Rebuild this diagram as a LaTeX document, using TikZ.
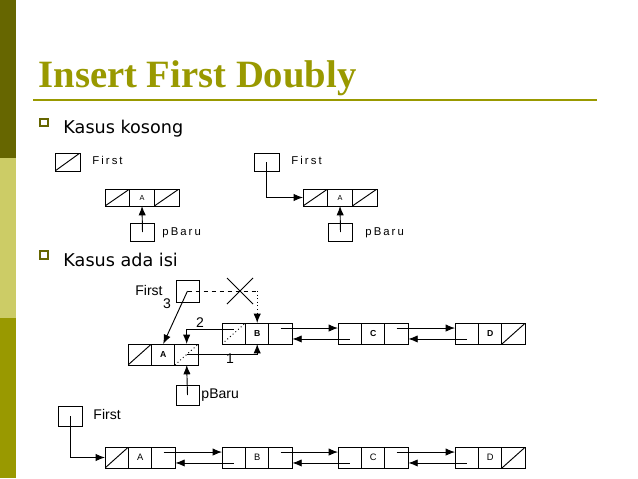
\documentclass[tikz,border=0pt]{standalone}
\usepackage{fontspec}
\setmainfont{Liberation Serif}
\newfontfamily\verd{DejaVu Sans}
\newfontfamily\ari{Liberation Sans}
\newfontfamily\arisp[LetterSpace=18]{Liberation Sans}
\usetikzlibrary{arrows.meta}
\definecolor{oliveD}{HTML}{666600}
\definecolor{oliveL}{HTML}{CCCC66}
\definecolor{oliveM}{HTML}{999900}
\newcommand{\trip}[7]{%
 \node[#4,#5,anchor=west] (#1l) at (#2,#3) {};
 \node[#4,anchor=west] (#1m) at (#1l.east) {#6};
 \node[#4,#7,anchor=west] (#1r) at (#1m.east) {};}
\begin{document}
\begin{tikzpicture}[x=0.75pt,y=-0.75pt,line width=0.7pt,
  cellS/.style={draw,inner sep=0,outer sep=0,minimum width=18.5pt,minimum height=12.75pt,font=\ari\fontsize{5.5}{6}\selectfont},
  cellM/.style={draw,inner sep=0,outer sep=0,minimum width=17.6pt,minimum height=15.75pt,font=\ari\bfseries\fontsize{6.5}{7}\selectfont},
  cellL/.style={draw,inner sep=0,outer sep=0,minimum width=17.6pt,minimum height=15.75pt,font=\ari\fontsize{7}{8}\selectfont},
  ptr/.style={draw,inner sep=0,outer sep=0},
  diag/.style={path picture={\draw (path picture bounding box.south west) -- (path picture bounding box.north east);}},
  ddiag/.style={path picture={\draw[dotted] (path picture bounding box.south west) -- (path picture bounding box.north east);}},
  arr/.style={-{Latex[length=7pt,width=5.5pt]}},
  lblS/.style={anchor=west,inner sep=0,font=\arisp\fontsize{8.5}{9}\selectfont},
  lblL/.style={inner sep=0,font=\ari\fontsize{10.5}{12}\selectfont},
  bul/.style={draw=oliveD,line width=1.3pt,inner sep=0,minimum size=5.5pt},
  head/.style={anchor=base west,inner sep=0,font=\verd\fontsize{13.2}{15}\selectfont}]
\useasboundingbox (0,0) rectangle (638,478);
\fill[white] (0,0) rectangle (638,478);
% side bar
\fill[oliveD] (0,0) rectangle (16,158);
\fill[oliveL] (0,158) rectangle (16,318);
\fill[oliveM] (0,318) rectangle (16,478);
% title
\node[anchor=base west,inner sep=0,text=oliveM,font=\bfseries\fontsize{29}{32}\selectfont] (title) at (38,87) {Insert First Doubly};
\draw[oliveM,line width=1.5pt] (33,100) -- (597,100);
% bullets
\node[bul] (b1) at (44,122.5) {};
\node[head] (h1) at (63,133) {Kasus kosong};
\node[bul] (b2) at (44,255) {};
\node[head] (h2) at (63,266) {Kasus ada isi};
% ---- Kasus kosong, left
\node[ptr,diag,minimum width=18.75pt,minimum height=13.5pt] (f1) at (67.5,162) {};
\node[lblS] (t1) at (92,160) {First};
\trip{n1}{105}{197.5}{cellS}{diag}{A}{diag}
\node[ptr,minimum width=18pt,minimum height=13.5pt] (pb1) at (142.5,232) {};
\node[lblS] (t2) at (162,233) {pBaru};
\draw[arr] (pb1.center) -- (n1m.south);
% ---- Kasus kosong, right
\node[ptr,minimum width=18.75pt,minimum height=13.5pt] (f2) at (266.5,162) {};
\node[lblS] (t3) at (291,160) {First};
\trip{n2}{303}{197.5}{cellS}{diag}{A}{diag}
\node[ptr,minimum width=18pt,minimum height=13.5pt] (pb2) at (340.5,232) {};
\node[lblS] (t4) at (365,233) {pBaru};
\draw[arr] (pb2.center) -- (n2m.south);
\draw[arr] (f2.center) |- (n2l.west);
% ---- Kasus ada isi
\node[ptr,minimum width=17.25pt,minimum height=16.5pt] (f3) at (187.5,291) {};
\node[lblL] (t5) at (149,290) {First};
\node[lblL] (n3lab) at (167,304) {3};
\trip{nA}{128}{354.5}{cellM}{diag}{A}{ddiag}
\trip{nB}{222}{333.5}{cellM}{ddiag}{B}{}
\trip{nC}{338}{333.5}{cellM}{}{C}{}
\trip{nD}{455}{333.5}{cellM}{}{D}{diag}
\node[ptr,minimum width=17.25pt,minimum height=15pt] (p3) at (187.5,395) {};
\node[lblL,anchor=west] (t6) at (201,395) {pBaru};
\node[lblL] (n2lab) at (200,323) {2};
\node[lblL] (n1lab) at (230,359) {1};
\coordinate (k) at (nBm.north |- f3.center);
\draw[dashed] (f3.center) -- (k);
\draw[dotted,arr] (k) -- (nBm.north);
\draw (227,278) -- (253,304) (227,304) -- (253,278);
\draw[arr] (f3.center) -- (nAm.north);
\coordinate (s2) at ([yshift=3.4pt]nBl.center);
\draw[arr] (s2) -| (nAr.north);
\draw[arr] (nAr.center) -| (nBm.south);
\draw[arr] (p3.center) -- (nAr.south);
\draw[arr] ([yshift=4.1pt]nBr.center) -- ([yshift=4.1pt]nCl.west);
\draw[arr] ([yshift=-4.1pt]nCl.center) -- ([yshift=-4.1pt]nBr.east);
\draw[arr] ([yshift=4.1pt]nCr.center) -- ([yshift=4.1pt]nDl.west);
\draw[arr] ([yshift=-4.1pt]nDl.center) -- ([yshift=-4.1pt]nCr.east);
% ---- result
\node[ptr,minimum width=18pt,minimum height=15pt] (f4) at (70,416) {};
\node[lblL,anchor=west] (t7) at (93,414) {First};
\trip{a4}{105}{457.5}{cellL}{diag}{A}{}
\trip{b4}{222}{457.5}{cellL}{}{B}{}
\trip{c4}{338}{457.5}{cellL}{}{C}{}
\trip{d4}{455}{457.5}{cellL}{}{D}{diag}
\draw[arr] (f4.center) |- (a4l.west);
\draw[arr] ([yshift=4.1pt]a4r.center) -- ([yshift=4.1pt]b4l.west);
\draw[arr] ([yshift=-4.1pt]b4l.center) -- ([yshift=-4.1pt]a4r.east);
\draw[arr] ([yshift=4.1pt]b4r.center) -- ([yshift=4.1pt]c4l.west);
\draw[arr] ([yshift=-4.1pt]c4l.center) -- ([yshift=-4.1pt]b4r.east);
\draw[arr] ([yshift=4.1pt]c4r.center) -- ([yshift=4.1pt]d4l.west);
\draw[arr] ([yshift=-4.1pt]d4l.center) -- ([yshift=-4.1pt]c4r.east);
\end{tikzpicture}
\end{document}
